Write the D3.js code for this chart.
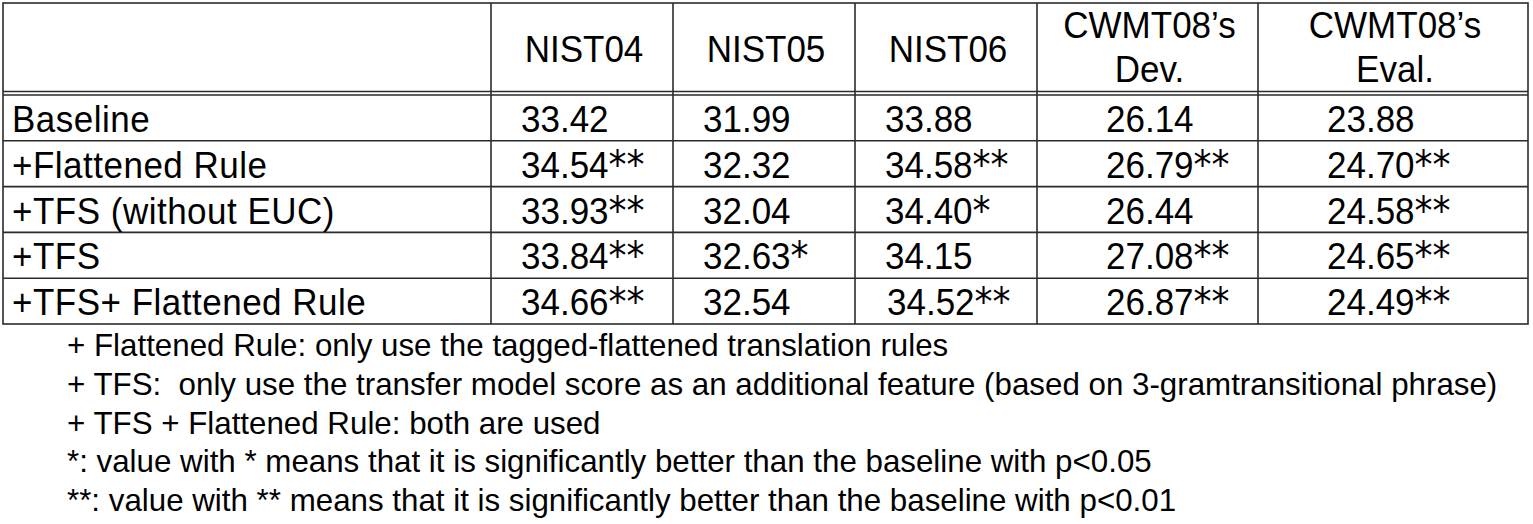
<!DOCTYPE html>
<html>
<head>
<meta charset="utf-8">
<script src="https://cdn.jsdelivr.net/npm/d3@7"></script>
<style>
  html, body { margin: 0; padding: 0; background: #fff; }
  svg { display: block; }
  text { font-family: "Liberation Sans", Arial, sans-serif; fill: #000; }
  .star { font-family: "DejaVu Sans", sans-serif; }
</style>
</head>
<body>
<svg width="1533" height="524"></svg>
<script>
// table data
const datasets = ["NIST04", "NIST05", "NIST06", "CWMT08\u2019s Dev.", "CWMT08\u2019s Eval."];
const systems = ["Baseline", "+Flattened Rule", "+TFS (without EUC)", "+TFS", "+TFS+ Flattened Rule"];

const nist04 = [33.42, 34.54, 33.93, 33.84, 34.66];
const nist05 = [31.99, 32.32, 32.04, 32.63, 32.54];
const nist06 = [33.88, 34.58, 34.40, 34.15, 34.52];
const cwmtDev = [26.14, 26.79, 26.44, 27.08, 26.87];
const cwmtEval = [23.88, 24.70, 24.58, 24.65, 24.49];

// significance marks
const sig04 = ["", "**", "**", "**", "**"];
const sig05 = ["", "", "", "*", ""];
const sig06 = ["", "**", "*", "", "**"];
const sigDev = ["", "**", "", "**", "**"];
const sigEval = ["", "**", "**", "**", "**"];

const notes = [
    "+ Flattened Rule: only use the tagged-flattened translation rules",
    "+ TFS:  only use the transfer model score as an additional feature (based on 3-gramtransitional phrase)",
    "+ TFS + Flattened Rule: both are used",
    "*: value with * means that it is significantly better than the baseline with p<0.05",
    "**: value with ** means that it is significantly better than the baseline with p<0.01"
];

const series = [nist04, nist05, nist06, cwmtDev, cwmtEval];
const marks = [sig04, sig05, sig06, sigDev, sigEval];

const svg = d3.select("svg");

// layout
const tLeft = 3, tRight = 1528, tTop = 3, headBottom = 93, tBottom = 324;
const colEdges = [491, 673, 855, 1037, 1258, tRight];
const valueOffset = [30, 30, 30, 69, 69];

const yRow = d3.scaleBand()
    .domain(systems)
    .range([headBottom + 2, tBottom]);

const gridColor = "#2b2b2b";
const grid = svg.append("g").attr("stroke", gridColor).attr("stroke-width", 1.6);

// outer frame
grid.append("rect")
    .attr("x", tLeft).attr("y", tTop)
    .attr("width", tRight - tLeft).attr("height", tBottom - tTop)
    .attr("fill", "none");

// vertical lines
grid.selectAll(".vline")
    .data(colEdges.slice(0, -1))
    .enter().append("line")
    .attr("x1", d => d).attr("x2", d => d)
    .attr("y1", tTop).attr("y2", tBottom);

// double line under header
[91.5, 95].forEach(y => {
    grid.append("line")
        .attr("x1", tLeft).attr("x2", tRight)
        .attr("y1", y).attr("y2", y)
        .attr("stroke-width", 1.3);
});

// row lines
grid.selectAll(".hline")
    .data(systems.slice(1))
    .enter().append("line")
    .attr("x1", tLeft).attr("x2", tRight)
    .attr("y1", d => yRow(d)).attr("y2", d => yRow(d));

const fs = 35;
const sy = 1.07; // glyphs in the source are a little taller than wide

function place(x, y) {
    return "translate(" + x + "," + y + ") scale(1," + sy + ")";
}

// header
datasets.forEach((name, i) => {
    const x0 = colEdges[i], x1 = colEdges[i + 1];
    const cx = (x0 + x1) / 2 + 2;
    const parts = name.split(" ");
    const lines = parts.length === 1 ? [[name, 62]] : [[parts[0], 38], [parts[1], 82]];
    lines.forEach(l => {
        svg.append("text")
            .attr("transform", place(cx, l[1]))
            .attr("text-anchor", "middle")
            .attr("font-size", fs)
            .text(l[0]);
    });
});

// row labels
svg.selectAll(".rowlabel")
    .data(systems)
    .enter().append("text")
    .attr("class", "rowlabel")
    .attr("transform", d => place(12, yRow(d) + 37))
    .attr("font-size", fs)
    .attr("letter-spacing", 0.5)
    .text(d => d);

// values
series.forEach((vals, i) => {
    const cells = svg.selectAll(".v" + i)
        .data(vals)
        .enter().append("text")
        .attr("class", "v" + i)
        .attr("transform", (d, j) => place(colEdges[i] + valueOffset[i] + (i === 2 && j === 4 ? 2 : 0),
                                           yRow(systems[j]) + 37))
        .attr("font-size", fs);
    cells.append("tspan").text(d => d3.format(".2f")(d));
    cells.append("tspan")
        .attr("class", "star")
        .attr("font-size", 36)
        .text((d, j) => marks[i][j]);
});

// footnotes
svg.selectAll(".note")
    .data(notes)
    .enter().append("text")
    .attr("class", "note")
    .attr("x", 67)
    .attr("y", (d, i) => 356 + i * 38.8)
    .attr("font-size", 31.3)
    .style("white-space", "pre")
    .text(d => d);
</script>
</body>
</html>
